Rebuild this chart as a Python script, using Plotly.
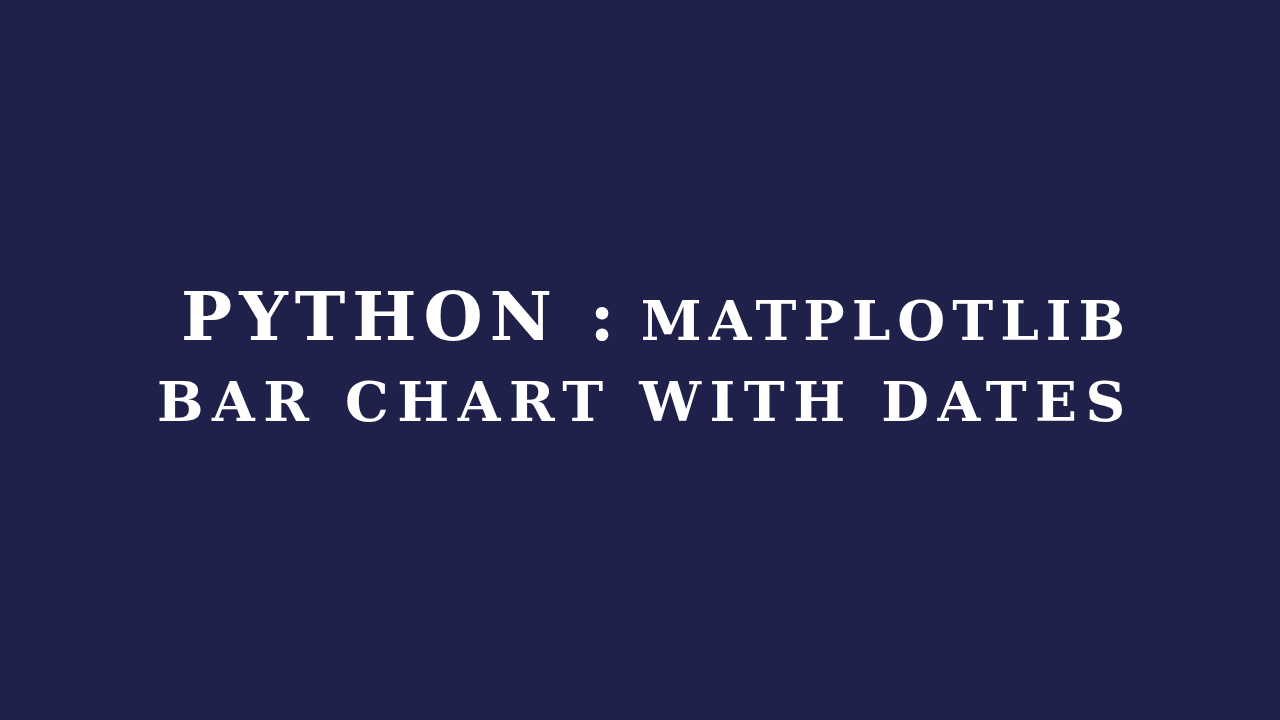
import plotly.graph_objects as go

bg_color = "#20214a"
line_big = ["PYTHON :", ""]
line_small = ["MATPLOTLIB", "BAR CHART WITH DATES"]
line_spacing = [7, 8.5]
line_y = [0.561, 0.443]
line_x = [0.513, 0.504]

fig = go.Figure()
for big, small, sp, x, y in zip(line_big, line_small, line_spacing, line_x, line_y):
    txt = ""
    if big:
        txt += f"<span style='font-size:68px;letter-spacing:{sp}px'>{big}</span> "
    txt += f"<span style='font-size:55px;letter-spacing:{sp}px'>{small}</span>"
    fig.add_annotation(
        text=txt, x=x, y=y, xref="paper", yref="paper",
        showarrow=False, xanchor="center", yanchor="middle",
        font=dict(family="DejaVu Serif", size=55, color="white", weight="bold"),
    )

fig.update_layout(
    width=1280, height=720,
    paper_bgcolor=bg_color, plot_bgcolor=bg_color,
    margin=dict(l=0, r=0, t=0, b=0),
    xaxis=dict(visible=False), yaxis=dict(visible=False),
    showlegend=False,
)
fig.write_html(
    "out.html",
    config={"displayModeBar": False},
    post_script=f"document.body.style.margin='0';document.body.style.background='{bg_color}';",
)
